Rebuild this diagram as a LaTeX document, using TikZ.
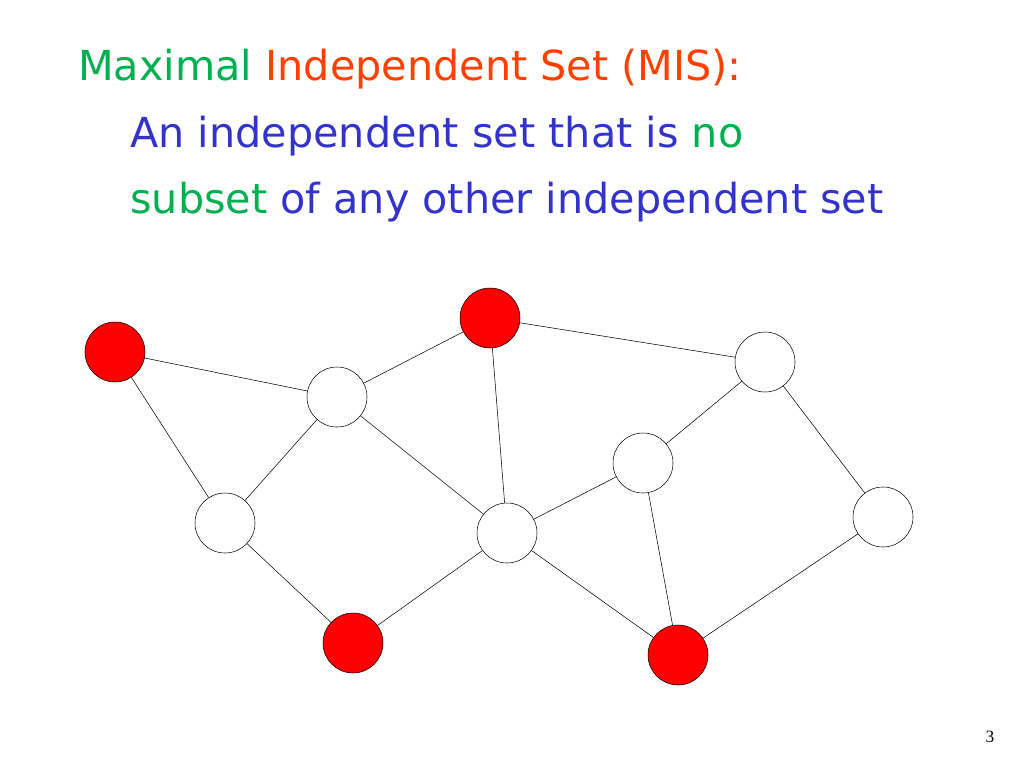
\documentclass[tikz,border=0pt]{standalone}
\usepackage{fontspec}
\setmainfont{Liberation Serif}
\newfontfamily\comic{DejaVu Sans}
\definecolor{tgreen}{RGB}{0,176,80}
\definecolor{torange}{RGB}{255,64,0}
\definecolor{tblue}{RGB}{51,51,204}
\begin{document}
\begin{tikzpicture}[x=0.75pt,y=-0.75pt,
  v/.style={circle,draw=black,minimum size=45pt,inner sep=0pt,fill=white},
  r/.style={v,fill=red},
  txt/.style={anchor=base west,inner sep=0pt,font=\comic\fontsize{31}{36}\selectfont}]
\useasboundingbox (0,0) rectangle (1024,768);
\node[txt] (t1) at (78,80) {\textcolor{tgreen}{Maximal} \textcolor{torange}{Independent Set (MIS):}};
\node[txt,text=tblue] (t2) at (130,147) {An independent set that is \textcolor{tgreen}{no}};
\node[txt,text=tblue] (t3) at (130,213) {\textcolor{tgreen}{subset} of any other independent set};
\node[anchor=base,font=\fontsize{13}{15}\selectfont] (pg) at (990,742) {3};
\node[r] (A) at (115,352) {};
\node[r] (B) at (490,318) {};
\node[v] (C) at (765,362) {};
\node[v] (D) at (337,397) {};
\node[v] (E) at (643,463) {};
\node[v] (F) at (225,523) {};
\node[v] (G) at (507,533) {};
\node[v] (H) at (883,517) {};
\node[r] (I) at (353,643) {};
\node[r] (J) at (678,655) {};
\foreach \a/\b in {A/D,A/F,D/B,B/C,B/G,D/F,D/G,F/I,I/G,G/E,G/J,E/C,E/J,C/H,H/J}
  \draw (\a) -- (\b);
\end{tikzpicture}
\end{document}
